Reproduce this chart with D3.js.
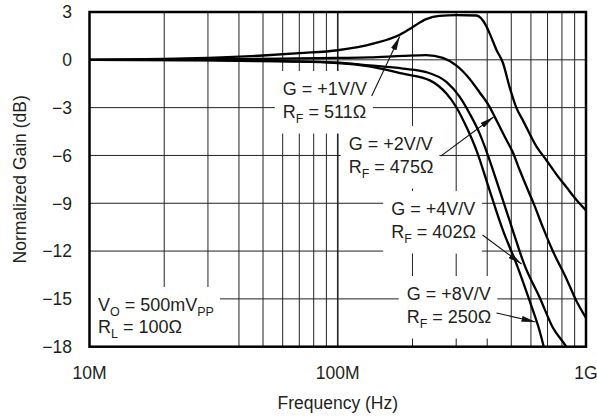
<!DOCTYPE html>
<html>
<head>
<meta charset="utf-8">
<script src="https://cdn.jsdelivr.net/npm/d3@7"></script>
<style>
	body { margin: 0; background: #fff; }
	text { font-family: "Liberation Sans", Arial, sans-serif; fill: #231f20; }
</style>
</head>
<body>
<div id="chart"></div>
<script>
// frequency in MHz, normalized gain in dB
var gain1 = [[10,0],[20,0.05],[30,0.12],[50,0.27],[70,0.42],[100,0.6],[140,1.03],[177,1.56],[200,2.05],[227,2.55],[257,2.76],[300,2.8],[362,2.78],[397,2.1],[409,1.66],[436,0.62],[463,-0.2],[492,-1.7],[524,-3.0],[557,-3.8],[632,-5.45],[693,-6.3],[761,-7.2],[835,-8.0],[916,-8.8],[1000,-9.45]];
var gain2 = [[10,0],[30,0.03],[60,0.08],[100,0.12],[134,0.15],[183,0.25],[227,0.3],[265,0.12],[300,-0.35],[340,-1.2],[373,-2.05],[409,-2.95],[428,-3.55],[477,-5.0],[507,-5.8],[540,-6.9],[592,-8.4],[611,-8.9],[670,-10.5],[735,-12.0],[832,-13.7],[913,-15.1],[1000,-16.2]];
var gain4 = [[10,0],[30,-0.02],[60,-0.08],[100,-0.18],[134,-0.35],[183,-0.55],[227,-0.77],[274,-1.39],[310,-2.33],[340,-3.38],[373,-4.63],[396,-5.68],[449,-8.19],[507,-10.7],[566,-12.9],[650,-14.9],[735,-16.8],[832,-18.0],[860,-18.4]];
var gain8 = [[10,0],[30,-0.03],[60,-0.1],[100,-0.2],[134,-0.41],[183,-0.87],[235,-1.29],[274,-2.12],[300,-2.96],[330,-4.22],[362,-5.68],[409,-8.19],[463,-10.7],[524,-12.79],[592,-15.1],[650,-17.0],[681,-18.2]];

var freqTicks = [1e7, 1e8, 1e9];
var freqTickLabels = ["10M", "100M", "1G"];
var gainTicks = [3, 0, -3, -6, -9, -12, -15, -18];
var gainTickLabels = ["3", "0", "\u22123", "\u22126", "\u22129", "\u221212", "\u221215", "\u221218"];

// annotation text, anchored at (MHz, dB); segments flagged true are subscripts
var labels = [
	{ f: 60.1, g: -2.21, lines: [[["G = +1V/V", false]], [["R", false], ["F", true], [" = 511\u03A9", false]]] },
	{ f: 110.7, g: -5.66, lines: [[["G = +2V/V", false]], [["R", false], ["F", true], [" = 475\u03A9", false]]] },
	{ f: 164.2, g: -9.74, lines: [[["G = +4V/V", false]], [["R", false], ["F", true], [" = 402\u03A9", false]]] },
	{ f: 189.5, g: -15.07, lines: [[["G = +8V/V", false]], [["R", false], ["F", true], [" = 250\u03A9", false]]] },
	{ f: 10.82, g: -15.76, lines: [[["V", false], ["O", true], [" = 500mV", false], ["PP", true]], [["R", false], ["L", true], [" = 100\u03A9", false]]] }
];

// arrows: from [MHz, dB] to [MHz, dB]
var arrows = [
	{ from: [137, -2.27], to: [177.6, 1.46] },
	{ from: [260, -6.04], to: [424, -3.59] },
	{ from: [383, -10.99], to: [550, -12.81] },
	{ from: [436, -15.88], to: [626, -16.45] }
];

var width = 597,
	height = 419;
var margin = { top: 12, right: 11, bottom: 72.3, left: 89.5 };
var plotW = width - margin.left - margin.right,
	plotH = height - margin.top - margin.bottom;

var svg = d3.select("#chart")
	.append("svg")
	.attr("width", width)
	.attr("height", height);

var x = d3.scaleLog().domain([1e7, 1e9]).range([margin.left, margin.left + plotW]);
var y = d3.scaleLinear().domain([-18, 3]).range([margin.top + plotH, margin.top]);

var defs = svg.append("defs");
defs.append("clipPath").attr("id", "plot-clip")
	.append("rect")
	.attr("x", margin.left).attr("y", margin.top)
	.attr("width", plotW).attr("height", plotH);

defs.append("marker")
	.attr("id", "arrowhead")
	.attr("viewBox", "0 0 14 6")
	.attr("refX", 14).attr("refY", 3)
	.attr("markerWidth", 14).attr("markerHeight", 6)
	.attr("markerUnits", "userSpaceOnUse")
	.attr("orient", "auto")
	.append("path")
	.attr("d", "M0,0L14,3L0,6Z")
	.attr("fill", "#111");

var gridLayer = svg.append("g");
var boxLayer = svg.append("g");
var curveLayer = svg.append("g").attr("clip-path", "url(#plot-clip)");
var arrowLayer = svg.append("g");
var textLayer = svg.append("g");

// grid
var vLines = x.ticks().filter(function(d) { return d > 1e7 && d < 1e9; });
gridLayer.selectAll(".vgrid")
	.data(vLines)
	.enter().append("line")
	.attr("x1", function(d) { return x(d); })
	.attr("x2", function(d) { return x(d); })
	.attr("y1", y(3)).attr("y2", y(-18))
	.attr("stroke", "#222")
	.attr("stroke-width", function(d) { return Math.abs(d - 1e8) < 1 ? 1.6 : 1; });

gridLayer.selectAll(".hgrid")
	.data(gainTicks.filter(function(d) { return d < 3 && d > -18; }))
	.enter().append("line")
	.attr("x1", x(1e7)).attr("x2", x(1e9))
	.attr("y1", function(d) { return y(d); })
	.attr("y2", function(d) { return y(d); })
	.attr("stroke", "#222")
	.attr("stroke-width", 1);

// curves
var line = d3.line()
	.x(function(d) { return x(d[0] * 1e6); })
	.y(function(d) { return y(d[1]); })
	.curve(d3.curveMonotoneX);

curveLayer.selectAll(".curve")
	.data([gain1, gain2, gain4, gain8])
	.enter().append("path")
	.attr("d", line)
	.attr("fill", "none")
	.attr("stroke", "#000")
	.attr("stroke-width", 2.3)
	.attr("stroke-linejoin", "round");

// arrows
arrowLayer.selectAll(".arrow")
	.data(arrows)
	.enter().append("line")
	.attr("x1", function(d) { return x(d.from[0] * 1e6); })
	.attr("y1", function(d) { return y(d.from[1]); })
	.attr("x2", function(d) { return x(d.to[0] * 1e6); })
	.attr("y2", function(d) { return y(d.to[1]); })
	.attr("stroke", "#111")
	.attr("stroke-width", 1.1)
	.attr("marker-end", "url(#arrowhead)");

// annotation labels with white boxes behind them
labels.forEach(function(lab) {
	var g = textLayer.append("g");
	lab.lines.forEach(function(segs, i) {
		var t = g.append("text")
			.attr("x", x(lab.f * 1e6))
			.attr("y", y(lab.g) + i * 22.5)
			.attr("font-size", 18);
		var shifted = false;
		segs.forEach(function(s) {
			var ts = t.append("tspan").text(s[0]);
			if (s[1]) {
				ts.attr("font-size", 12.5).attr("dy", shifted ? 0 : 5);
				shifted = true;
			} else {
				if (shifted) ts.attr("dy", -5);
				shifted = false;
			}
		});
	});
	var bb = g.node().getBBox();
	var bottom = Math.min(bb.y + bb.height + 8, y(-18));
	boxLayer.append("rect")
		.attr("x", Math.max(bb.x - 8, x(1e7)))
		.attr("y", bb.y - 8)
		.attr("width", bb.x + bb.width + 6 - Math.max(bb.x - 8, x(1e7)))
		.attr("height", bottom - (bb.y - 8))
		.attr("fill", "#fff");
});

// frame
svg.append("rect")
	.attr("x", x(1e7)).attr("y", y(3))
	.attr("width", plotW).attr("height", plotH)
	.attr("fill", "none")
	.attr("stroke", "#000")
	.attr("stroke-width", 2.5);

// tick labels
svg.selectAll(".ylab")
	.data(gainTicks)
	.enter().append("text")
	.attr("x", margin.left - 17.5)
	.attr("y", function(d) { return y(d); })
	.attr("dy", "0.36em")
	.attr("text-anchor", "end")
	.attr("font-size", 17.5)
	.text(function(d, i) { return gainTickLabels[i]; });

svg.selectAll(".xlab")
	.data(freqTicks)
	.enter().append("text")
	.attr("x", function(d) { return x(d); })
	.attr("y", 378.5)
	.attr("text-anchor", "middle")
	.attr("font-size", 17.5)
	.text(function(d, i) { return freqTickLabels[i]; });

// axis titles
svg.append("text")
	.attr("x", margin.left + plotW / 2)
	.attr("y", 409)
	.attr("text-anchor", "middle")
	.attr("font-size", 17.5)
	.text("Frequency (Hz)");

svg.append("text")
	.attr("transform", "translate(26," + (margin.top + plotH / 2) + ") rotate(-90)")
	.attr("text-anchor", "middle")
	.attr("font-size", 17.5)
	.text("Normalized Gain (dB)");
</script>
</body>
</html>
